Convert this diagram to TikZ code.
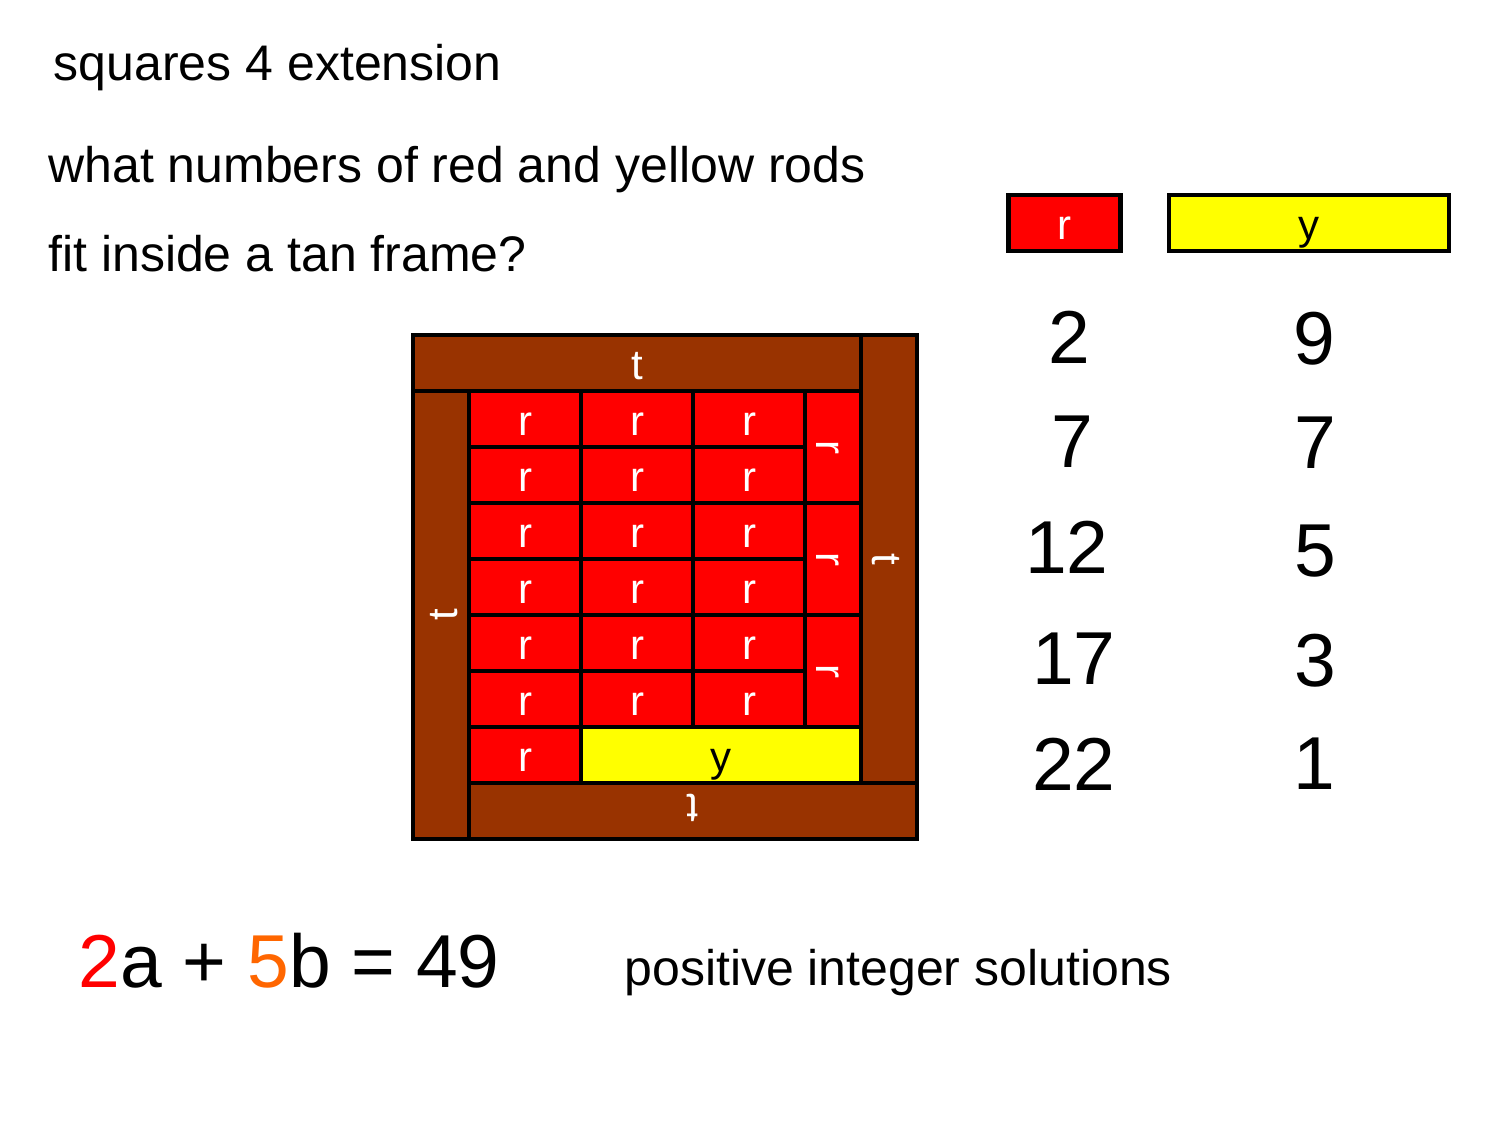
\documentclass[tikz,border=0pt]{standalone}
\usepackage{fontspec}
\setmainfont{Liberation Sans}
\definecolor{rodtan}{HTML}{993300}
\definecolor{rodred}{HTML}{FF0000}
\definecolor{rodyellow}{HTML}{FFFF00}
\definecolor{eqorange}{HTML}{FF6600}

\begin{document}
\begin{tikzpicture}[
    x=0.5pt, y=-0.5pt,
    rod/.style={rectangle, draw=black, line width=2.2pt, inner sep=0pt,
        minimum height=28pt, text height=18.5pt, text depth=2pt,
        font=\fontsize{21}{25}\selectfont},
    redrod/.style={rod, fill=rodred, text=white, minimum width=56pt},
    yellowrod/.style={rod, fill=rodyellow, text=black, minimum width=140pt},
    tanrod/.style={rod, fill=rodtan, text=white, minimum width=224pt},
    heading/.style={anchor=base west, inner sep=0pt,
        font=\fontsize{25}{30}\selectfont},
    bignum/.style={anchor=base, inner sep=0pt,
        font=\fontsize{37.5}{45}\selectfont}
]
\useasboundingbox (0,0) rectangle (1500,1125);

\node (Title) [heading] at (53.5,80) {squares 4 extension};
\node (Question1) [heading] at (48,182) {what numbers of red and yellow rods};
\node (Question2) [heading] at (48,271) {fit inside a tan frame?};

% the frame, one unit = one row of rods
\begin{scope}[shift={(413,335)}, x=28pt, y=-28pt]
  \node (TanTop) [tanrod] at (4,0.5) {t};
  \node (TanRight) [tanrod, rotate=-90] at (8.5,4) {t};
  \node (TanLeft) [tanrod, rotate=90] at (0.5,5) {t};
  \node (TanBottom) [tanrod, rotate=180] at (5,8.5) {t};
  \foreach \row in {1,...,6}
    \foreach \col in {2,4,6}
      \node (Red-\row-\col) [redrod] at (\col,\row+0.5) {r};
  \foreach \row in {2,4,6}
    \node (RedSide-\row) [redrod, rotate=-90] at (7.5,\row) {r};
  \node (Red-7-2) [redrod] at (2,7.5) {r};
  \node (Yellow) [yellowrod] at (5.5,7.5) {y};
\end{scope}

\node (KeyRed) [redrod] at (1064.5,223) {r};
\node (KeyYellow) [yellowrod] at (1309,223) {y};

\foreach \val/\xx/\yy [count=\i] in
    {2/1069/363, 7/1072/467, 12/1067/573, 17/1074/684, 22/1074/790}
  \node (RedCount-\i) [bignum] at (\xx,\yy) {\val};
\foreach \val/\xx/\yy [count=\i] in
    {9/1314/364, 7/1315/468, 5/1315/576, 3/1315/686, 1/1314/789}
  \node (YellowCount-\i) [bignum] at (\xx,\yy) {\val};

\node (Equation) [bignum, anchor=base west] at (78,987)
    {\textcolor{rodred}{2}a + \textcolor{eqorange}{5}b = 49};
\node (Solutions) [heading] at (624,985) {positive integer solutions};

\end{tikzpicture}
\end{document}
